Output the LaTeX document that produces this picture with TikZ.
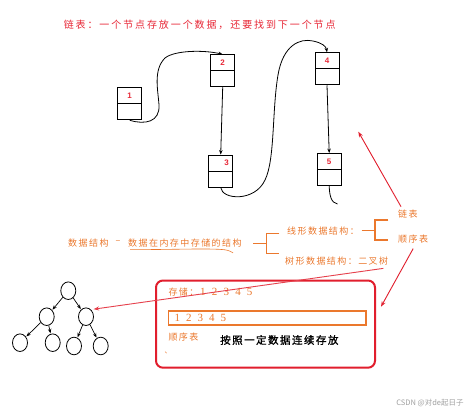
\documentclass[tikz,border=0pt]{standalone}
\usepackage{fontspec}
\setmainfont{Noto Sans CJK SC}
\newfontfamily\lsans{Liberation Sans}
\newfontfamily\lserif{Liberation Serif}
\newfontfamily\fttl[LetterSpace=19]{Noto Sans CJK SC}
\newfontfamily\fmid[LetterSpace=16]{Noto Sans CJK SC}
\newfontfamily\fbig[LetterSpace=14,FakeBold=1.2]{Noto Sans CJK SC}
\usetikzlibrary{arrows.meta,shapes.geometric}
\definecolor{tred}{RGB}{232,40,55}
\definecolor{orng}{RGB}{235,120,45}
\definecolor{bred}{RGB}{225,30,45}
\definecolor{wm}{RGB}{160,160,160}
\begin{document}
\begin{tikzpicture}[x=1pt,y=-1pt,
  llbox/.style={draw=black, line width=0.9pt, minimum width=24pt, minimum height=32pt, inner sep=0pt,
    path picture={\draw[line width=0.9pt] (path picture bounding box.west) -- (path picture bounding box.east);}},
  numlab/.style={text=tred, font=\lsans\bfseries\fontsize{8}{9}\selectfont, inner sep=0pt},
  conn/.style={draw=black, line width=0.8pt, -{Stealth[length=4.5pt,width=3.5pt]}},
  treenode/.style={draw=black, line width=0.8pt, ellipse, minimum width=15pt, minimum height=17.6pt, inner sep=0pt},
  tconn/.style={draw=black, line width=0.7pt, -{Stealth[length=4.5pt,width=3.5pt]}, shorten >=0.5pt},
  otext/.style={text=orng, inner sep=0pt, anchor=west, font=\fmid\fontsize{9}{10}\selectfont},
  bracket/.style={draw=orng, line width=1.2pt},
  redarr/.style={draw=bred, line width=0.9pt, -{Stealth[length=5.5pt,width=4pt]}},
]
\useasboundingbox (0,0) rectangle (474,412);
\fill[white] (0,0) rectangle (474,412);

% title
\node[text=tred, inner sep=0pt, font=\fttl\fontsize{10}{12}\selectfont] (title) at (199.7,25) {链表：一个节点存放一个数据，还要找到下一个节点};

% linked list boxes
\node[llbox] (b1) at (129.7,103.8) {};
\node[llbox] (b2) at (222.7,70.8) {};
\node[llbox] (b3) at (220.7,171) {};
\node[llbox] (b4) at (327,68.8) {};
\node[llbox] (b5) at (329.2,169.5) {};
\node[numlab] (l1) at ([yshift=8pt]b1.center) {1};
\node[numlab] (l2) at ([yshift=8pt]b2.center) {2};
\node[numlab] (l3) at ([xshift=6pt,yshift=8pt]b3.center) {3};
\node[numlab] (l4) at ([yshift=8pt]b4.center) {4};
\node[numlab] (l5) at ([yshift=8pt]b5.center) {5};

\draw[conn] (b1.south) .. controls (145,125) and (160,122) .. (159,105)
  .. controls (158,90) and (153,70) .. (165,58)
  .. controls (175,50) and (205,50) .. (b2.north);
\draw[conn] (b2.south) -- (b3.north);
\draw[conn] (b3.south) .. controls (222,200) and (255,202) .. (265,180)
  .. controls (275,160) and (272,110) .. (278,75)
  .. controls (283,45) and (300,38) .. (313,41)
  .. controls (322,43) and (326,46) .. (b4.north);
\draw[conn] (b4.south) -- (b5.north);
\coordinate (tail) at (337.5,204);
\draw[draw=black, line width=0.8pt] (b5.south) .. controls (329.5,195) and (331,203) .. (tail);

% data structure texts
\node[otext] (ds0) at (68,242.7) {数据结构};
\node[text=orng, inner sep=0pt, font=\fontsize{9}{10}\selectfont] (dash) at (118,242.5) {–};
\node[otext] (ds) at (128,242.7) {数据在内存中存储的结构};
\draw[orng, line width=0.6pt] (130,249.6) .. controls (170,249.8) and (210,248) .. (225,249.8) .. controls (229,250.5) and (231,251.5) .. (233,252.8);
\draw[bracket] (253,243.3) -- (266.7,243.3);
\draw[bracket] (279.3,233.3) -| (266.7,253.3) -- (279.3,253.3);
\node[otext] (xx) at (287,230.7) {线形数据结构：};
\node[otext] (sx) at (285,261) {树形数据结构：二叉树};
\draw[bracket] (361.7,230.7) -- (375,230.7);
\draw[bracket] (388.3,220) -| (375,240) -- (388.3,240);
\node[otext] (lb) at (398,214) {链表};
\node[otext] (sxb) at (398,239.3) {顺序表};

% tree
\node[treenode] (r) at (68.3,290.7) {};
\node[treenode] (n1) at (46.7,316.7) {};
\node[treenode] (n2) at (86,316.7) {};
\node[treenode] (n11) at (20,342.7) {};
\node[treenode] (n12) at (52.7,342.7) {};
\node[treenode] (n21) at (74,346) {};
\node[treenode] (n22) at (100.7,346) {};
\draw[tconn] (r) -- (n1);
\draw[tconn] (r) -- (n2);
\draw[tconn] (n1) -- (n11);
\draw[tconn] (n1) -- (n12);
\draw[tconn] (n2) -- (n21);
\draw[tconn] (n2) -- (n22);

% red box
\draw[bred, line width=2pt, rounded corners=7pt] (156,280.5) rectangle (375,367.7);
\node[otext] (cc) at (168.3,291.7) {存储：};
\node[text=orng, inner sep=0pt, anchor=west, font=\lserif\fontsize{11}{12}\selectfont] (cn) at (200,292) {1\hspace{6.2pt}2\hspace{6.2pt}3\hspace{6.2pt}4\hspace{6.2pt}5};
\draw[orng, line width=1.1pt] (168.3,311) rectangle (366,325);
\node[text=orng, inner sep=0pt, anchor=west, font=\lserif\fontsize{11}{12}\selectfont] (arr) at (174.5,318.3) {1\hspace{6pt}2\hspace{6pt}3\hspace{6pt}4\hspace{6pt}5};
\node[otext] (sxl) at (168.3,336.7) {顺序表};
\node[inner sep=0pt, anchor=west, text=black, font=\fbig\fontsize{10.5}{12}\selectfont] (ax) at (220,340) {按照一定数据连续存放};
\node[text=orng, inner sep=0pt, font=\fontsize{7}{8}\selectfont] (dun) at (168,353) {、};

% red arrows
\coordinate (tipA) at (358.3,131.7);
\coordinate (tipB) at (381,306.7);
\draw[redarr] ([xshift=3pt,yshift=3pt]lb.north west) -- (tipA);
\draw[redarr] ([yshift=-5pt]sxb.south) -- (tipB);
\draw[redarr, draw=bred!85] ([xshift=-5pt,yshift=-3pt]sx.south east) -- ([xshift=2pt,yshift=1pt]n2.north east);

% watermark
\node[text=wm, inner sep=0pt, font=\fontsize{7.5}{9}\selectfont] (wmk) at (430,403.3) {CSDN @对de起日子};
\end{tikzpicture}
\end{document}
